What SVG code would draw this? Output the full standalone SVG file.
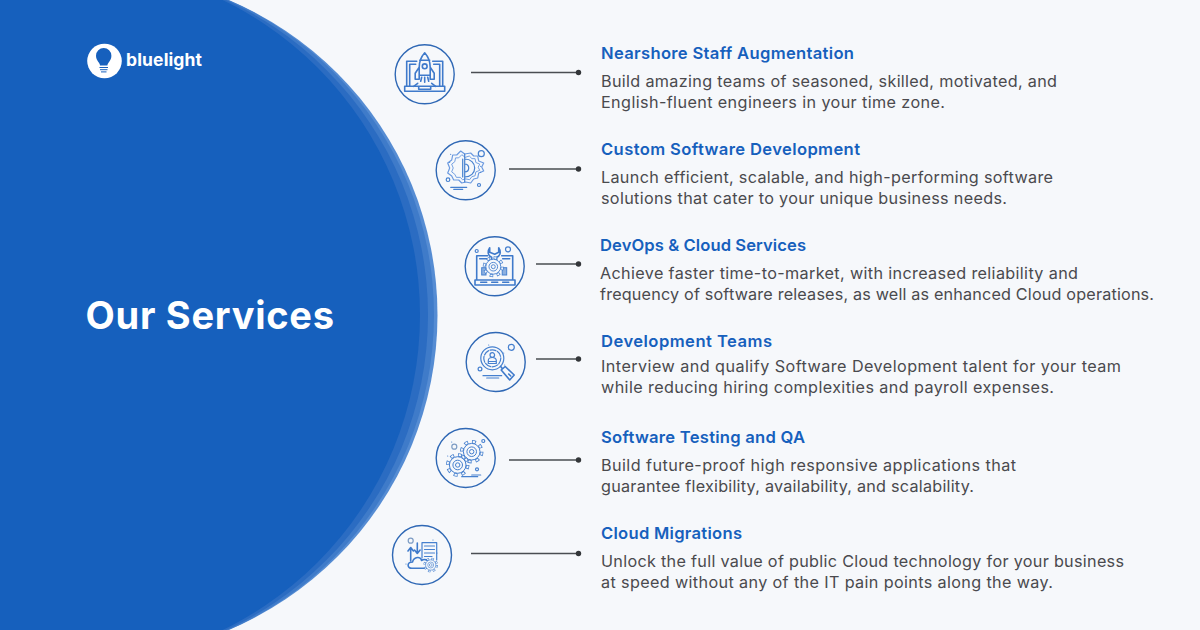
<svg xmlns="http://www.w3.org/2000/svg" width="1200" height="630" viewBox="0 0 1200 630">
<style>
text{font-family:Inter,"Open Sans","Liberation Sans",sans-serif}
.t{font-size:16.6px;font-weight:600;fill:#1660bd}
.b{font-size:16.2px;font-weight:400;fill:#4a4a4e}
.ring{fill:none;stroke:#2f68b5;stroke-width:1.4}
.i{fill:none;stroke:#4680cf;stroke-width:1.2;stroke-linecap:round;stroke-linejoin:round}
.h{stroke-width:1.6;stroke:#3f7acb}
.l{stroke:#4a4d52;stroke-width:1.6;fill:none}
.d{fill:#333639}
</style>
<defs>
<g id="gear">
<circle r="10" fill="none" stroke="#4680cf" stroke-width="3.500" stroke-dasharray="3.900 3.954"/>
<circle r="10" fill="none" stroke="#f6f8fb" stroke-width="1.900" stroke-dasharray="2.300 5.554" stroke-dashoffset="-.8"/>
<circle r="8.300" fill="#f6f8fb" stroke="#4680cf" stroke-width="1"/>
<circle r="4.800" fill="none" stroke="#4680cf" stroke-width="1"/>
<circle r="2.200" fill="none" stroke="#4680cf" stroke-width="1"/>
</g>
<path id="cog" d="M-1-14L-5-17L-9-13L-13-13L-14-8L-18-5L-16 0L-18 5L-14 8L-12 12L-7 12L-4 15L0 14L5 15L8 11L12 10L13 5L18 3L16-1L18-5L13-7L12-12L8-12L5-15Z"/>
</defs>
<rect width="1200" height="630" fill="#f6f8fb"/>
<g id="panel">
<circle cx="95.500" cy="315" r="342" fill="#558cd3"/>
<circle cx="90" cy="315" r="344" fill="#3f7bc9"/>
<circle cx="81.400" cy="315" r="346.600" fill="#2b6cc2"/>
<circle cx="70" cy="315" r="350" fill="#1660bd"/>
</g>
<g id="logo">
<circle cx="104.500" cy="61" r="17.300" fill="#fff"/>
<path d="M100 65.500C100 62.500 96 61 96 55.800A7.700 7.700 0 0 1 111.400 55.800C111.400 61 107.400 62.500 107.400 65.500Z" fill="#1660bd"/>
<path d="M99.500 67.500H108M100 69.700H107.500M101 71.900H106.500" stroke="#1660bd" stroke-width="1"/>
<text x="126" y="65.500" font-size="17.500" font-weight="700" fill="#fff" textLength="76">bluelight</text>
</g>
<text id="heading" x="85.500" y="329" font-size="38" font-weight="700" fill="#fff" textLength="248.500">Our Services</text>
<g id="connectors">
<path class="l" d="M471 72.500H578M509 169H578M536 264H578M536 359H578M509 460H578M471 553.500H578"/>
<circle class="d" cx="578.500" cy="72.500" r="2.700"/><circle class="d" cx="578.500" cy="169" r="2.700"/><circle class="d" cx="578.500" cy="264" r="2.700"/><circle class="d" cx="578.500" cy="359" r="2.700"/><circle class="d" cx="578.500" cy="460" r="2.700"/><circle class="d" cx="578.500" cy="553.500" r="2.700"/>
</g>
<g id="n1">
<circle class="ring" cx="424.700" cy="74.300" r="29.500"/>
<g class="i h" transform="translate(424.700 74.300)">
<path d="M-18 12V-13H-8M8-13H18V12M-15 12V-10H-9M9-10H15V12"/>
<path d="M-20 12H20V17H-20ZM-6 12V15H6V12"/>
<path d="M0-21.500C-4-17-5.500-12-5.500-7V1H5.500V-7C5.500-12 4-17 0-21.500ZM-5.500-7L-9.500-1V5H-5.500V1M5.500-7L9.500-1V5H5.500V1M-3 3L-4 7M3 3L4 7M0 3V8M-7 9L-11 12M7 9L11 12M-5-14H5"/><circle cy="-8" r="2.400"/>
</g>
<text class="t" x="601" y="59" textLength="253">Nearshore Staff Augmentation</text>
<text class="b" x="601" y="87" textLength="456">Build amazing teams of seasoned, skilled, motivated, and</text>
<text class="b" x="601" y="108" textLength="344">English-fluent engineers in your time zone.</text>
</g>
<g id="n2">
<circle class="ring" cx="465.700" cy="170.300" r="29.500"/>
<g class="i" transform="translate(465.700 168)">
<use href="#cog" stroke="#6b9ae0"/>
<use href="#cog" transform="scale(.78)" stroke="#6b9ae0"/>
<path d="M-1-9C5-9 9-5 9 0C9 5 5 9-1 9M-1-14V14M-3-9V9M-1-4C2-4 3-2 3 0C3 2 2 4-1 4"/>
</g>
<g class="i" transform="translate(465.700 170.300)">
<circle cx="15.600" cy="-16.600" r="3"/><circle cx="-17.700" cy="9.400" r="1.800"/><circle cx="13.300" cy="14.700" r="1.500"/>
<path d="M-15 17H1M-12 19H-3M-16-8V-8M15-4V-4M15 2V2M-15-16V-16"/>
</g>
<text class="t" x="601" y="155" textLength="259">Custom Software Development</text>
<text class="b" x="601" y="183" textLength="452">Launch efficient, scalable, and high-performing software</text>
<text class="b" x="601" y="204" textLength="406">solutions that cater to your unique business needs.</text>
</g>
<g id="n3">
<circle class="ring" cx="494.700" cy="266.300" r="29.500"/>
<g transform="translate(494.700 266.300)">
<path class="i h" d="M-7-10.600H-18V13.700H18V-10.600H7M-19.700 13.700H20.300V18.700H-19.700ZM-14 16H-8M-3 16H3M8 16H14M-15-7.500H-8M8-7.500H15"/>
<path class="i h" d="M-5-18.500C-8-14-6-10-3-9V-5H2V-9C5-10 7-14 4-18.500V-14L0-12L-5-14Z"/>
<rect x="-13" y="1.400" width="4.300" height="7.300" fill="#8cb0e0" stroke="#4680cf"/><rect x="7.500" y="1.400" width="4.500" height="7.300" fill="#8cb0e0" stroke="#4680cf"/>
<use href="#gear" transform="translate(-1.400 .4) scale(.9)"/>
<circle class="i" cx="13.300" cy="-17" r="2.500"/><circle class="i" cx="-18" cy="-15.300" r="1.500"/>
</g>
<text class="t" x="600" y="251" textLength="206">DevOps &amp; Cloud Services</text>
<text class="b" x="600" y="279" textLength="478">Achieve faster time-to-market, with increased reliability and</text>
<text class="b" x="600" y="300" textLength="554">frequency of software releases, as well as enhanced Cloud operations.</text>
</g>
<g id="n4">
<circle class="ring" cx="495.700" cy="362" r="29.500"/>
<g class="i" transform="translate(495.700 362)">
<circle cx="-3.400" cy="-3.700" r="11.500"/><circle cx="-3.400" cy="-3.700" r="8.500" stroke-dasharray="6 1.500"/>
<circle cx="-3.400" cy="-7" r="2.300"/><path d="M-7.400 1.500V-1.500C-7.400-3.500-5.500-4.500-3.400-4.500C-1.300-4.500.6-3.500.6-1.500V1.500ZM-7.400-.500H.6"/>
<path class="h" d="M5 4.500L6.500 6.500M5.500 8L9.500 4.500L18.500 13L14 18ZM13 12L15 14"/>
<circle cx="15.600" cy="-14.700" r="3"/><circle cx="-15.700" cy="7" r="1.900"/><path d="M-12.700 13.700H6M-9 16H3M-7-17V-17M8-9V-9M9 3V3"/>
</g>
<text class="t" x="601" y="347" textLength="171">Development Teams</text>
<text class="b" x="601" y="372" textLength="520">Interview and qualify Software Development talent for your team</text>
<text class="b" x="601" y="393" textLength="453">while reducing hiring complexities and payroll expenses.</text>
</g>
<g id="n5">
<circle class="ring" cx="465.700" cy="458" r="29.500"/>
<use href="#gear" transform="translate(471.700 451.700)"/>
<use href="#gear" transform="translate(457.700 465)"/>
<g class="i" transform="translate(465.700 458)">
<circle cx="-11.400" cy="-11.300" r="2.500" stroke="#7d9cc4"/><circle cx="17.600" cy="-17" r="1.500"/><circle cx="11.300" cy="11.300" r="1.500"/><path d="M-4 18.700H12M6 17H15M-18-2V-2M-14-16V-16"/>
</g>
<text class="t" x="601" y="443" textLength="204">Software Testing and QA</text>
<text class="b" x="601" y="471" textLength="415">Build future-proof high responsive applications that</text>
<text class="b" x="601" y="492" textLength="373">guarantee flexibility, availability, and scalability.</text>
</g>
<g id="n6">
<circle class="ring" cx="422" cy="555" r="29.500"/>
<g class="i" transform="translate(422 555)">
<path d="M0 3V-12.300H14.700V5M2.500-9H12.500M2.500-5.500H12.500M2.500-2H12.500M2.500 1.500H10"/>
<path class="h" d="M-11.300 6V-7M-14-4L-11.300-7.500L-8.600-4M-4.700-12V-2M-7.500-5L-4.700-1.500L-1.900-5"/>
<path class="h" d="M-10 13.300C-15.500 13.300-15 7-9.500 7C-8 1.500-1 1-.5 5.500C2.500 3.500 7 5 7 8M-10 13.300H6"/>
<circle cx="-11.300" cy="-14.300" r="2.500" stroke="#7d9cc4"/><path d="M-16 9V9M11-15V-15M15-2V-2"/>
</g>
<use href="#gear" transform="translate(430.700 565) scale(.62)"/>
<text class="t" x="601" y="539" textLength="141">Cloud Migrations</text>
<text class="b" x="601" y="567" textLength="523">Unlock the full value of public Cloud technology for your business</text>
<text class="b" x="601" y="588" textLength="452">at speed without any of the IT pain points along the way.</text>
</g>
</svg>
